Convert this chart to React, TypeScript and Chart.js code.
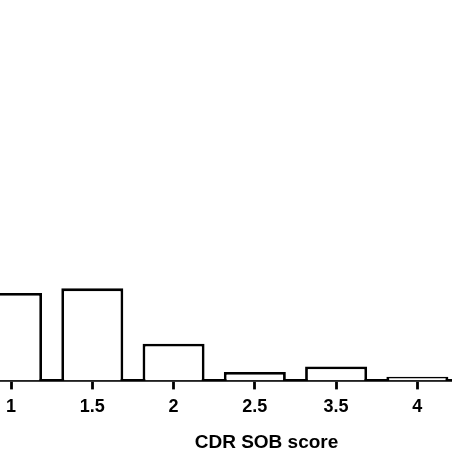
import React, { useEffect, useRef } from "react";
import { Chart, registerables } from "chart.js";

Chart.register(...registerables);

const categories = ["1", "1.5", "2", "2.5", "3.5", "4"];
const values = [30.2, 31.8, 12.7, 2.9, 4.8, 1.3];
const axisTitle = "CDR SOB score";

export default function App() {
  const ref = useRef<HTMLCanvasElement | null>(null);

  useEffect(() => {
    document.body.style.margin = "0";
    const canvas = ref.current;
    if (!canvas) return;
    const chart = new Chart(canvas, {
      type: "bar",
      data: {
        labels: categories,
        datasets: [
          {
            data: values,
            backgroundColor: "#ffffff",
            borderColor: "#000000",
            borderWidth: 2.8,
            barPercentage: 0.763,
            categoryPercentage: 1,
          },
        ],
      },
      options: {
        responsive: false,
        animation: false,
        devicePixelRatio: 1,
        layout: { padding: { left: 10.4, right: 22, top: 91, bottom: 27 } },
        plugins: { legend: { display: false }, tooltip: { enabled: false } },
        scales: {
          x: {
            offset: true,
            grid: {
              display: true,
              offset: false,
              drawOnChartArea: false,
              drawTicks: true,
              tickLength: 9,
              tickWidth: 2.8,
              tickColor: "#000000",
            },
            border: { display: true, width: 2.8, color: "#000000" },
            ticks: {
              color: "#000000",
              padding: 7,
              font: { family: "'Liberation Sans', Arial, sans-serif", size: 18, weight: "bold" },
            },
          },
          y: {
            display: false,
            min: 0,
            max: 100,
          },
        },
      },
    });
    return () => chart.destroy();
  }, []);

  return (
    <div style={{ position: "relative", width: 452, height: 452, overflow: "hidden", background: "#fff" }}>
      <canvas
        ref={ref}
        width={520}
        height={452}
        style={{ position: "absolute", left: -40, top: 0, width: 520, height: 452 }}
      />
      <div
        style={{
          position: "absolute",
          left: 166.5,
          width: 200,
          top: 432,
          lineHeight: "19px",
          textAlign: "center",
          fontFamily: "'Liberation Sans', Arial, sans-serif",
          fontWeight: "bold",
          fontSize: 19,
          color: "#000",
          whiteSpace: "nowrap",
        }}
      >
        {axisTitle}
      </div>
    </div>
  );
}
